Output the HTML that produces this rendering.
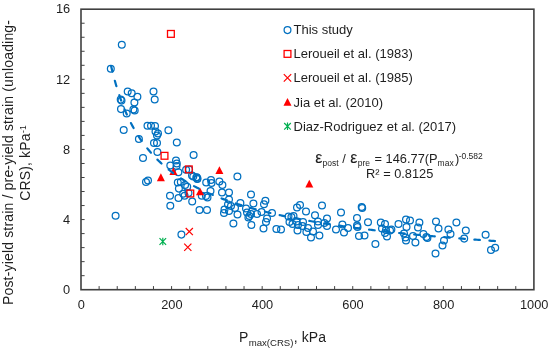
<!DOCTYPE html>
<html><head><meta charset="utf-8"><style>
html,body{margin:0;padding:0;background:#fff;width:550px;height:351px;overflow:hidden}
svg{display:block;filter:blur(0.3px)}
text{font-family:"Liberation Sans",Arial,sans-serif;fill:#1e1e1e}
.tl text{font-size:12.8px}
.lg text{font-size:13px}
.eq{font-size:12.8px}
.eps{font-size:16px;stroke:#1e1e1e;stroke-width:0.12px}
.sb{font-size:8.5px}
.ti{font-size:14px}
.ts{font-size:9.6px}
.ts2{font-size:8.5px}
</style></head><body><svg width="550" height="351" viewBox="0 0 550 351"><rect x="81.00" y="9.20" width="452.90" height="280.50" fill="none" stroke="#404040" stroke-width="1.6"/><path d="M99.12 289.70V286.10M117.23 289.70V286.10M135.35 289.70V286.10M153.46 289.70V286.10M171.58 289.70V286.10M189.70 289.70V286.10M207.81 289.70V286.10M225.93 289.70V286.10M244.04 289.70V286.10M262.16 289.70V286.10M280.28 289.70V286.10M298.39 289.70V286.10M316.51 289.70V286.10M334.62 289.70V286.10M352.74 289.70V286.10M370.86 289.70V286.10M388.97 289.70V286.10M407.09 289.70V286.10M425.20 289.70V286.10M443.32 289.70V286.10M461.44 289.70V286.10M479.55 289.70V286.10M497.67 289.70V286.10M515.78 289.70V286.10M81.00 275.68H84.60M81.00 261.65H84.60M81.00 247.62H84.60M81.00 233.60H84.60M81.00 219.57H84.60M81.00 205.55H84.60M81.00 191.52H84.60M81.00 177.50H84.60M81.00 163.47H84.60M81.00 149.45H84.60M81.00 135.42H84.60M81.00 121.40H84.60M81.00 107.37H84.60M81.00 93.35H84.60M81.00 79.32H84.60M81.00 65.30H84.60M81.00 51.27H84.60M81.00 37.25H84.60M81.00 23.22H84.60" stroke="#404040" stroke-width="1.0" fill="none"/><g class="tl"><text x="70.2" y="293.90" text-anchor="end">0</text><text x="70.2" y="223.77" text-anchor="end">4</text><text x="70.2" y="153.65" text-anchor="end">8</text><text x="70.2" y="83.52" text-anchor="end">12</text><text x="70.2" y="13.40" text-anchor="end">16</text><text x="81.30" y="309.1" text-anchor="middle">0</text><text x="171.88" y="309.1" text-anchor="middle">200</text><text x="262.46" y="309.1" text-anchor="middle">400</text><text x="353.04" y="309.1" text-anchor="middle">600</text><text x="443.62" y="309.1" text-anchor="middle">800</text><text x="534.20" y="309.1" text-anchor="middle">1000</text></g><g fill="none" stroke="#0070C0" stroke-width="1.25"><circle cx="121.8" cy="44.8" r="3.4"/><circle cx="110.8" cy="68.8" r="3.4"/><circle cx="127.7" cy="91.5" r="3.4"/><circle cx="131.7" cy="93.2" r="3.4"/><circle cx="137.4" cy="96.8" r="3.4"/><circle cx="120.7" cy="99.6" r="3.4"/><circle cx="121.5" cy="100.6" r="3.4"/><circle cx="134.4" cy="102.4" r="3.4"/><circle cx="121.0" cy="109.1" r="3.4"/><circle cx="126.7" cy="113.4" r="3.4"/><circle cx="133.4" cy="109.4" r="3.4"/><circle cx="134.7" cy="110.4" r="3.4"/><circle cx="153.5" cy="91.5" r="3.4"/><circle cx="154.7" cy="99.4" r="3.4"/><circle cx="123.7" cy="130.0" r="3.4"/><circle cx="138.9" cy="138.9" r="3.4"/><circle cx="147.5" cy="125.8" r="3.4"/><circle cx="151.0" cy="125.8" r="3.4"/><circle cx="155.0" cy="126.0" r="3.4"/><circle cx="155.5" cy="131.5" r="3.4"/><circle cx="158.0" cy="133.5" r="3.4"/><circle cx="157.0" cy="135.5" r="3.4"/><circle cx="168.4" cy="130.3" r="3.4"/><circle cx="154.0" cy="142.9" r="3.4"/><circle cx="157.0" cy="143.1" r="3.4"/><circle cx="176.8" cy="142.5" r="3.4"/><circle cx="143.0" cy="158.0" r="3.4"/><circle cx="157.4" cy="152.0" r="3.4"/><circle cx="193.6" cy="155.0" r="3.4"/><circle cx="176.0" cy="160.5" r="3.4"/><circle cx="176.8" cy="163.5" r="3.4"/><circle cx="176.5" cy="166.0" r="3.4"/><circle cx="170.3" cy="165.4" r="3.4"/><circle cx="178.4" cy="172.2" r="3.4"/><circle cx="186.1" cy="169.7" r="3.4"/><circle cx="189.1" cy="169.5" r="3.4"/><circle cx="192.0" cy="175.6" r="3.4"/><circle cx="146.0" cy="182.0" r="3.4"/><circle cx="148.0" cy="180.5" r="3.4"/><circle cx="193.3" cy="176.4" r="3.4"/><circle cx="196.3" cy="177.6" r="3.4"/><circle cx="197.5" cy="178.6" r="3.4"/><circle cx="196.8" cy="177.2" r="3.4"/><circle cx="197.2" cy="178.9" r="3.4"/><circle cx="177.8" cy="182.4" r="3.4"/><circle cx="180.8" cy="182.0" r="3.4"/><circle cx="185.1" cy="185.0" r="3.4"/><circle cx="187.2" cy="186.7" r="3.4"/><circle cx="178.9" cy="188.6" r="3.4"/><circle cx="183.2" cy="193.8" r="3.4"/><circle cx="184.6" cy="195.7" r="3.4"/><circle cx="170.0" cy="195.7" r="3.4"/><circle cx="178.5" cy="197.9" r="3.4"/><circle cx="188.5" cy="193.1" r="3.4"/><circle cx="192.2" cy="201.5" r="3.4"/><circle cx="170.3" cy="205.7" r="3.4"/><circle cx="206.2" cy="182.4" r="3.4"/><circle cx="201.8" cy="195.7" r="3.4"/><circle cx="211.0" cy="180.0" r="3.4"/><circle cx="211.5" cy="183.0" r="3.4"/><circle cx="219.4" cy="181.5" r="3.4"/><circle cx="222.4" cy="185.0" r="3.4"/><circle cx="237.4" cy="176.5" r="3.4"/><circle cx="210.5" cy="191.0" r="3.4"/><circle cx="206.0" cy="196.0" r="3.4"/><circle cx="207.5" cy="197.4" r="3.4"/><circle cx="222.0" cy="192.4" r="3.4"/><circle cx="229.0" cy="192.4" r="3.4"/><circle cx="229.0" cy="199.4" r="3.4"/><circle cx="251.0" cy="194.4" r="3.4"/><circle cx="253.4" cy="203.4" r="3.4"/><circle cx="265.4" cy="200.8" r="3.4"/><circle cx="264.0" cy="204.2" r="3.4"/><circle cx="199.5" cy="210.0" r="3.4"/><circle cx="207.0" cy="210.0" r="3.4"/><circle cx="257.0" cy="214.0" r="3.4"/><circle cx="261.5" cy="212.0" r="3.4"/><circle cx="272.0" cy="213.0" r="3.4"/><circle cx="267.0" cy="218.4" r="3.4"/><circle cx="266.0" cy="222.0" r="3.4"/><circle cx="291.4" cy="217.0" r="3.4"/><circle cx="228.0" cy="204.5" r="3.4"/><circle cx="231.0" cy="206.0" r="3.4"/><circle cx="224.5" cy="209.5" r="3.4"/><circle cx="224.0" cy="213.0" r="3.4"/><circle cx="229.0" cy="211.0" r="3.4"/><circle cx="235.0" cy="208.0" r="3.4"/><circle cx="240.4" cy="203.0" r="3.4"/><circle cx="246.0" cy="208.5" r="3.4"/><circle cx="247.0" cy="212.5" r="3.4"/><circle cx="249.4" cy="216.0" r="3.4"/><circle cx="248.4" cy="217.4" r="3.4"/><circle cx="251.0" cy="214.0" r="3.4"/><circle cx="233.4" cy="223.4" r="3.4"/><circle cx="251.4" cy="225.0" r="3.4"/><circle cx="237.5" cy="214.5" r="3.4"/><circle cx="181.4" cy="234.6" r="3.4"/><circle cx="115.6" cy="215.8" r="3.4"/><circle cx="300.0" cy="205.0" r="3.4"/><circle cx="297.0" cy="207.5" r="3.4"/><circle cx="306.0" cy="211.5" r="3.4"/><circle cx="322.0" cy="205.5" r="3.4"/><circle cx="315.0" cy="215.2" r="3.4"/><circle cx="327.0" cy="218.4" r="3.4"/><circle cx="288.5" cy="216.5" r="3.4"/><circle cx="293.5" cy="216.0" r="3.4"/><circle cx="289.5" cy="222.0" r="3.4"/><circle cx="292.5" cy="224.0" r="3.4"/><circle cx="296.5" cy="221.5" r="3.4"/><circle cx="298.0" cy="225.0" r="3.4"/><circle cx="297.5" cy="230.4" r="3.4"/><circle cx="303.0" cy="222.0" r="3.4"/><circle cx="302.5" cy="226.0" r="3.4"/><circle cx="306.4" cy="232.0" r="3.4"/><circle cx="308.0" cy="228.0" r="3.4"/><circle cx="318.0" cy="221.5" r="3.4"/><circle cx="318.0" cy="225.0" r="3.4"/><circle cx="313.0" cy="231.4" r="3.4"/><circle cx="311.0" cy="237.4" r="3.4"/><circle cx="319.4" cy="235.4" r="3.4"/><circle cx="324.4" cy="223.0" r="3.4"/><circle cx="341.0" cy="212.5" r="3.4"/><circle cx="327.0" cy="226.0" r="3.4"/><circle cx="342.4" cy="224.4" r="3.4"/><circle cx="336.0" cy="229.4" r="3.4"/><circle cx="348.0" cy="228.0" r="3.4"/><circle cx="344.0" cy="232.4" r="3.4"/><circle cx="357.0" cy="218.0" r="3.4"/><circle cx="357.0" cy="225.5" r="3.4"/><circle cx="357.5" cy="227.0" r="3.4"/><circle cx="361.7" cy="207.0" r="3.4"/><circle cx="362.2" cy="208.0" r="3.4"/><circle cx="368.0" cy="222.3" r="3.4"/><circle cx="380.8" cy="222.6" r="3.4"/><circle cx="385.0" cy="224.0" r="3.4"/><circle cx="359.0" cy="236.0" r="3.4"/><circle cx="364.5" cy="235.4" r="3.4"/><circle cx="375.4" cy="244.0" r="3.4"/><circle cx="382.0" cy="228.5" r="3.4"/><circle cx="386.0" cy="230.0" r="3.4"/><circle cx="390.0" cy="230.5" r="3.4"/><circle cx="385.0" cy="233.0" r="3.4"/><circle cx="387.0" cy="236.4" r="3.4"/><circle cx="391.4" cy="229.5" r="3.4"/><circle cx="398.5" cy="224.0" r="3.4"/><circle cx="406.0" cy="219.4" r="3.4"/><circle cx="410.0" cy="220.4" r="3.4"/><circle cx="419.4" cy="222.4" r="3.4"/><circle cx="418.0" cy="227.5" r="3.4"/><circle cx="406.5" cy="227.0" r="3.4"/><circle cx="404.0" cy="233.5" r="3.4"/><circle cx="405.5" cy="237.4" r="3.4"/><circle cx="406.0" cy="240.4" r="3.4"/><circle cx="413.0" cy="236.0" r="3.4"/><circle cx="415.4" cy="242.4" r="3.4"/><circle cx="423.4" cy="234.0" r="3.4"/><circle cx="426.4" cy="237.0" r="3.4"/><circle cx="427.4" cy="238.0" r="3.4"/><circle cx="436.0" cy="221.5" r="3.4"/><circle cx="438.5" cy="228.4" r="3.4"/><circle cx="448.4" cy="229.4" r="3.4"/><circle cx="450.5" cy="234.0" r="3.4"/><circle cx="456.4" cy="222.4" r="3.4"/><circle cx="465.8" cy="230.5" r="3.4"/><circle cx="444.0" cy="240.5" r="3.4"/><circle cx="442.5" cy="245.4" r="3.4"/><circle cx="435.5" cy="253.4" r="3.4"/><circle cx="464.2" cy="238.6" r="3.4"/><circle cx="485.6" cy="234.8" r="3.4"/><circle cx="491.0" cy="250.0" r="3.4"/><circle cx="495.2" cy="247.8" r="3.4"/><circle cx="263.5" cy="228.4" r="3.4"/><circle cx="276.4" cy="229.0" r="3.4"/><circle cx="281.0" cy="229.4" r="3.4"/></g><g fill="none" stroke="#FF0000" stroke-width="1.3"><rect x="167.5" y="30.5" width="6.8" height="6.8"/><rect x="161.1" y="152.4" width="6.8" height="6.8"/><rect x="185.4" y="166.0" width="6.8" height="6.8"/><rect x="186.9" y="190.1" width="6.8" height="6.8"/></g><g fill="none" stroke="#FF0000" stroke-width="1.2"><path d="M185.7 228.0L192.9 235.2M192.9 228.0L185.7 235.2"/><path d="M184.2 243.6L191.4 250.8M191.4 243.6L184.2 250.8"/></g><g fill="#FF0000"><path d="M160.9 173.3L164.9 181.2L156.9 181.2Z"/><path d="M173.4 167.2L177.4 175.1L169.4 175.1Z"/><path d="M219.4 166.2L223.4 174.1L215.4 174.1Z"/><path d="M200.0 187.4L204.0 195.3L196.0 195.3Z"/><path d="M309.3 179.7L313.3 187.6L305.3 187.6Z"/></g><g fill="none" stroke="#00B050" stroke-width="1.2"><path d="M159.5 238.2L166.1 244.8M166.1 238.2L159.5 244.8M162.8 237.7V245.3"/></g><path d="M110.98 65.46 L112.27 70.87 L113.55 75.94 L114.84 80.70 L116.12 85.18 L117.40 89.41 L118.69 93.41 L119.97 97.21 L121.26 100.80 L122.54 104.23 L123.83 107.48 L125.11 110.59 L126.40 113.56 L127.68 116.39 L128.96 119.11 L130.25 121.71 L131.53 124.21 L132.82 126.61 L134.10 128.92 L135.39 131.14 L136.67 133.28 L137.95 135.34 L139.24 137.33 L140.52 139.26 L141.81 141.11 L143.09 142.91 L144.38 144.65 L145.66 146.33 L146.95 147.97 L148.23 149.55 L149.51 151.08 L150.80 152.57 L152.08 154.02 L153.37 155.43 L154.65 156.80 L155.94 158.13 L157.22 159.42 L158.51 160.68 L159.79 161.91 L161.07 163.11 L162.36 164.27 L163.64 165.41 L164.93 166.52 L166.21 167.61 L167.50 168.67 L168.78 169.70 L170.07 170.71 L171.35 171.70 L172.63 172.66 L173.92 173.61 L175.20 174.53 L176.49 175.43 L177.77 176.32 L179.06 177.19 L180.34 178.04 L181.63 178.87 L182.91 179.68 L184.19 180.48 L185.48 181.26 L186.76 182.03 L188.05 182.79 L189.33 183.53 L190.62 184.25 L191.90 184.97 L193.19 185.66 L194.47 186.35 L195.75 187.03 L197.04 187.69 L198.32 188.34 L199.61 188.98 L200.89 189.61 L202.18 190.23 L203.46 190.84 L204.74 191.44 L206.03 192.03 L207.31 192.60 L208.60 193.17 L209.88 193.74 L211.17 194.29 L212.45 194.83 L213.74 195.37 L215.02 195.89 L216.30 196.41 L217.59 196.92 L218.87 197.43 L220.16 197.93 L221.44 198.42 L222.73 198.90 L224.01 199.37 L225.30 199.84 L226.58 200.30 L227.86 200.76 L229.15 201.21 L230.43 201.65 L231.72 202.09 L233.00 202.52 L234.29 202.95 L235.57 203.37 L236.86 203.78 L238.14 204.19 L239.42 204.60 L240.71 205.00 L241.99 205.39 L243.28 205.78 L244.56 206.16 L245.85 206.54 L247.13 206.92 L248.42 207.29 L249.70 207.65 L250.98 208.01 L252.27 208.37 L253.55 208.72 L254.84 209.07 L256.12 209.42 L257.41 209.76 L258.69 210.10 L259.98 210.43 L261.26 210.76 L262.54 211.08 L263.83 211.41 L265.11 211.72 L266.40 212.04 L267.68 212.35 L268.97 212.66 L270.25 212.96 L271.54 213.26 L272.82 213.56 L274.10 213.86 L275.39 214.15 L276.67 214.44 L277.96 214.72 L279.24 215.01 L280.53 215.29 L281.81 215.57 L283.09 215.84 L284.38 216.11 L285.66 216.38 L286.95 216.65 L288.23 216.91 L289.52 217.17 L290.80 217.43 L292.09 217.69 L293.37 217.94 L294.65 218.19 L295.94 218.44 L297.22 218.69 L298.51 218.93 L299.79 219.17 L301.08 219.41 L302.36 219.65 L303.65 219.89 L304.93 220.12 L306.21 220.35 L307.50 220.58 L308.78 220.81 L310.07 221.03 L311.35 221.26 L312.64 221.48 L313.92 221.70 L315.21 221.91 L316.49 222.13 L317.77 222.34 L319.06 222.56 L320.34 222.76 L321.63 222.97 L322.91 223.18 L324.20 223.38 L325.48 223.59 L326.77 223.79 L328.05 223.99 L329.33 224.19 L330.62 224.38 L331.90 224.58 L333.19 224.77 L334.47 224.96 L335.76 225.15 L337.04 225.34 L338.33 225.53 L339.61 225.71 L340.89 225.90 L342.18 226.08 L343.46 226.26 L344.75 226.44 L346.03 226.62 L347.32 226.80 L348.60 226.97 L349.88 227.15 L351.17 227.32 L352.45 227.49 L353.74 227.66 L355.02 227.83 L356.31 228.00 L357.59 228.17 L358.88 228.33 L360.16 228.50 L361.44 228.66 L362.73 228.82 L364.01 228.99 L365.30 229.15 L366.58 229.30 L367.87 229.46 L369.15 229.62 L370.44 229.77 L371.72 229.93 L373.00 230.08 L374.29 230.23 L375.57 230.38 L376.86 230.53 L378.14 230.68 L379.43 230.83 L380.71 230.98 L382.00 231.12 L383.28 231.27 L384.56 231.41 L385.85 231.56 L387.13 231.70 L388.42 231.84 L389.70 231.98 L390.99 232.12 L392.27 232.26 L393.56 232.39 L394.84 232.53 L396.12 232.67 L397.41 232.80 L398.69 232.94 L399.98 233.07 L401.26 233.20 L402.55 233.33 L403.83 233.46 L405.12 233.59 L406.40 233.72 L407.68 233.85 L408.97 233.98 L410.25 234.10 L411.54 234.23 L412.82 234.36 L414.11 234.48 L415.39 234.60 L416.67 234.73 L417.96 234.85 L419.24 234.97 L420.53 235.09 L421.81 235.21 L423.10 235.33 L424.38 235.45 L425.67 235.57 L426.95 235.68 L428.23 235.80 L429.52 235.91 L430.80 236.03 L432.09 236.14 L433.37 236.26 L434.66 236.37 L435.94 236.48 L437.23 236.59 L438.51 236.71 L439.79 236.82 L441.08 236.93 L442.36 237.04 L443.65 237.14 L444.93 237.25 L446.22 237.36 L447.50 237.47 L448.79 237.57 L450.07 237.68 L451.35 237.78 L452.64 237.89 L453.92 237.99 L455.21 238.09 L456.49 238.20 L457.78 238.30 L459.06 238.40 L460.35 238.50 L461.63 238.60 L462.91 238.70 L464.20 238.80 L465.48 238.90 L466.77 239.00 L468.05 239.10 L469.34 239.20 L470.62 239.29 L471.91 239.39 L473.19 239.49 L474.47 239.58 L475.76 239.68 L477.04 239.77 L478.33 239.86 L479.61 239.96 L480.90 240.05 L482.18 240.14 L483.47 240.24 L484.75 240.33 L486.03 240.42 L487.32 240.51 L488.60 240.60 L489.89 240.69 L491.17 240.78 L492.46 240.87 L493.74 240.96 L495.02 241.04 L496.31 241.13" fill="none" stroke="#0070C0" stroke-width="2.2" stroke-dasharray="5.6 9.51" stroke-dashoffset="-0.7" stroke-linecap="round"/><circle cx="287.5" cy="30.1" r="3.4" fill="none" stroke="#0070C0" stroke-width="1.25"/><g fill="none" stroke="#FF0000" stroke-width="1.3"><rect x="284.1" y="50.5" width="6.8" height="6.8"/></g><g fill="none" stroke="#FF0000" stroke-width="1.2"><path d="M283.8 74.2L291.2 81.6M291.2 74.2L283.8 81.6"/></g><g fill="#FF0000"><path d="M287.5 97.9L291.5 105.8L283.5 105.8Z"/></g><g fill="none" stroke="#00B050" stroke-width="1.2"><path d="M284.2 123.0L290.8 129.6M290.8 123.0L284.2 129.6M287.5 122.5V130.1"/></g><g class="lg"><text x="293.5" y="33.9">This study</text><text x="293.5" y="58.1">Leroueil et al. (1983)</text><text x="293.5" y="82.3">Leroueil et al. (1985)</text><text x="293.5" y="106.6">Jia et al. (2010)</text><text x="293.5" y="130.7">Diaz-Rodriguez et al. (2017)</text></g><text class="eps" x="315.15" y="162.7">&#949;</text><text class="sb" x="322.55" y="165.6">post</text><text class="eq" x="342.3" y="162.7">/</text><text class="eps" x="350.35" y="162.7">&#949;</text><text class="sb" x="357.75" y="165.6">pre</text><text class="eq" x="374.6" y="162.7">= 146.77(P</text><text class="sb" x="437.6" y="166">max</text><text class="eq" x="454.9" y="162.7">)</text><text class="sb" x="458.7" y="159.1">-0.582</text><text class="eq" x="366.1" y="177.7">R² = 0.8125</text><text class="ti" x="239.0" y="341.8">P</text><text class="ts" x="248.7" y="345.6">max(CRS)</text><text class="ti" x="293.7" y="341.8">,</text><text class="ti" x="301.8" y="341.8">kPa</text><text class="ti" transform="translate(12.9 305.0) rotate(-90)" x="0" y="0" textLength="285" lengthAdjust="spacing">Post-yield strain / pre-yield strain (unloading-</text><text class="ti" transform="translate(29.9 200.7) rotate(-90)" x="0" y="0" textLength="67.2" lengthAdjust="spacing">CRS), kPa</text><text class="ts2" transform="translate(25.5 132.9) rotate(-90)" x="0" y="0">-1</text></svg></body></html>
